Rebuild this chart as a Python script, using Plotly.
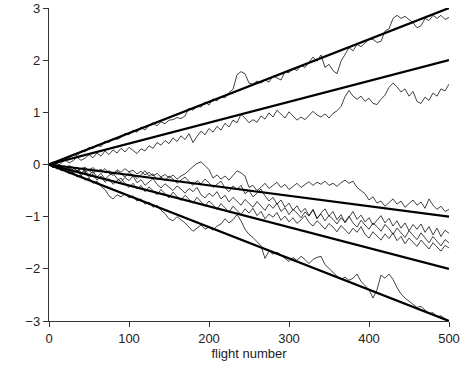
import plotly.graph_objects as go

flights = list(range(0, 501, 5))

# straight reference lines: endpoints
line_x = [0, 500]
line_ends = [3, 2, -1, -2, -3]

trace1 = [0, 0.05, 0.02, 0.10, 0.12, 0.13, 0.20, 0.17, 0.26, 0.24,
          0.33, 0.30, 0.38, 0.34, 0.45, 0.42, 0.50, 0.48, 0.52, 0.60,
          0.57, 0.66, 0.62, 0.72, 0.66, 0.75, 0.80, 0.74, 0.82, 0.78,
          0.85, 0.86, 0.90, 0.88, 0.93, 1.08, 1.04, 1.12, 1.10, 1.20,
          1.14, 1.26, 1.22, 1.30, 1.28, 1.38, 1.44, 1.72, 1.78, 1.74,
          1.56, 1.54, 1.60, 1.56, 1.62, 1.58, 1.70, 1.66, 1.62, 1.78,
          1.76, 1.84, 1.80, 1.90, 1.86, 1.96, 2.06, 1.98, 2.10, 1.86,
          1.92, 1.80, 1.74, 1.98, 2.12, 2.24, 2.18, 2.30, 2.26, 2.34,
          2.40, 2.40, 2.34, 2.36, 2.56, 2.60, 2.80, 2.86, 2.80, 2.84,
          2.78, 2.72, 2.62, 2.66, 2.80, 2.76, 2.86, 2.80, 2.86, 2.78,
          2.82]
trace2 = [0, 0.04, -0.03, 0.02, 0.09, 0.03, 0.07, 0.14, 0.08, 0.12,
          0.19, 0.13, 0.22, 0.16, 0.26, 0.19, 0.28, 0.22, 0.31, 0.24,
          0.33, 0.27, 0.21, 0.30, 0.26, 0.36, 0.31, 0.42, 0.37, 0.46,
          0.40, 0.51, 0.44, 0.55, 0.48, 0.59, 0.42, 0.54, 0.64, 0.57,
          0.69, 0.62, 0.73, 0.66, 0.79, 0.72, 0.85, 0.80, 0.96, 0.89,
          0.80, 0.86, 0.81, 0.93, 0.87, 0.99, 0.91, 1.04, 0.97, 0.89,
          1.01, 0.92, 0.85, 0.91, 0.86, 0.94, 1.02, 0.95, 0.91, 0.97,
          0.89, 0.98, 1.03, 1.11, 1.30, 1.42, 1.31, 1.25, 1.31, 1.21,
          1.27, 1.17, 1.15, 1.25, 1.33, 1.48, 1.56, 1.49, 1.39, 1.45,
          1.31, 1.40, 1.21, 1.17, 1.29, 1.23, 1.37, 1.31, 1.45, 1.41,
          1.54]
trace3 = [0, -0.04, 0.02, -0.06, -0.03, -0.09, -0.05, -0.12, -0.07, -0.14,
          -0.10, -0.06, -0.13, -0.09, -0.16, -0.12, -0.18, -0.10, -0.15, -0.08,
          -0.14, -0.11, -0.18, -0.13, -0.20, -0.15, -0.22, -0.17, -0.24, -0.19,
          -0.26, -0.20, -0.28, -0.22, -0.18, -0.10, -0.04, 0.02, 0.05, -0.02,
          -0.10, -0.26, -0.20, -0.28, -0.22, -0.30, -0.20, -0.12, -0.16, -0.22,
          -0.44, -0.40, -0.50, -0.44, -0.36, -0.46, -0.40, -0.34, -0.44, -0.38,
          -0.48, -0.42, -0.36, -0.44, -0.38, -0.33, -0.40, -0.34, -0.38, -0.32,
          -0.40, -0.36, -0.42, -0.35, -0.30, -0.36, -0.32, -0.44, -0.50, -0.56,
          -0.68, -0.62, -0.74, -0.70, -0.80, -0.72, -0.66, -0.76, -0.70, -0.82,
          -0.74, -0.68, -0.78, -0.72, -0.84, -0.66, -0.78, -0.86, -0.80, -0.90,
          -0.86]
trace4 = [0, -0.03, 0.03, -0.04, -0.09, -0.02, -0.06, -0.13, -0.08, -0.05,
          -0.12, -0.17, -0.10, -0.14, -0.08, -0.16, -0.21, -0.13, -0.18, -0.24,
          -0.15, -0.20, -0.27, -0.19, -0.12, -0.22, -0.18, -0.29, -0.24, -0.31,
          -0.22, -0.28, -0.36, -0.30, -0.24, -0.33, -0.40, -0.31, -0.37, -0.28,
          -0.35, -0.44, -0.38, -0.32, -0.45, -0.52, -0.41, -0.48, -0.40, -0.56,
          -0.50, -0.62, -0.55, -0.47, -0.60, -0.70, -0.63, -0.76, -0.68, -0.82,
          -0.74, -0.88, -0.79, -0.92, -0.84, -0.98, -0.86, -1.04, -0.93, -0.85,
          -0.99, -0.90, -1.06, -0.96, -1.12, -1.00, -0.90, -1.05, -0.97, -1.10,
          -1.02, -1.16, -1.06, -0.98, -1.12, -1.03, -1.18, -1.08, -1.22, -1.12,
          -1.27, -1.15, -1.24, -1.14, -1.30, -1.19, -1.35, -1.22, -1.38, -1.26,
          -1.32]
trace5 = [0, -0.06, -0.01, -0.10, -0.04, -0.14, -0.09, -0.05, -0.16, -0.11,
          -0.20, -0.13, -0.24, -0.17, -0.28, -0.21, -0.16, -0.27, -0.33, -0.25,
          -0.31, -0.22, -0.35, -0.29, -0.40, -0.34, -0.27, -0.38, -0.45, -0.37,
          -0.43, -0.50, -0.41, -0.47, -0.55, -0.46, -0.52, -0.44, -0.58, -0.64,
          -0.55, -0.61, -0.52, -0.66, -0.59, -0.72, -0.63, -0.70, -0.78, -0.67,
          -0.74, -0.82, -0.71, -0.79, -0.88, -0.76, -0.84, -0.74, -0.90, -0.83,
          -0.96, -0.86, -0.93, -1.02, -0.91, -0.99, -0.87, -1.03, -0.95, -1.08,
          -0.98, -1.05, -1.14, -1.02, -1.10, -0.99, -1.12, -1.20, -1.07, -1.16,
          -1.24, -1.12, -1.19, -1.28, -1.15, -1.23, -1.34, -1.22, -1.30, -1.40,
          -1.27, -1.36, -1.44, -1.31, -1.40, -1.50, -1.38, -1.46, -1.56, -1.44,
          -1.50]
trace6 = [0, -0.02, -0.09, -0.04, -0.13, -0.07, -0.17, -0.11, -0.21, -0.14,
          -0.25, -0.19, -0.30, -0.22, -0.34, -0.27, -0.38, -0.31, -0.26, -0.37,
          -0.44, -0.36, -0.47, -0.40, -0.52, -0.43, -0.50, -0.58, -0.48, -0.56,
          -0.64, -0.53, -0.61, -0.69, -0.59, -0.66, -0.74, -0.63, -0.71, -0.80,
          -0.70, -0.77, -0.86, -0.75, -0.83, -0.92, -0.80, -0.88, -0.96, -0.85,
          -0.93, -0.84, -0.98, -0.90, -1.04, -0.95, -1.01, -0.92, -1.07, -0.99,
          -1.10, -1.02, -1.13, -1.06, -0.98, -1.11, -1.18, -1.08, -1.15, -1.24,
          -1.13, -1.20, -1.29, -1.17, -1.25, -1.33, -1.22, -1.30, -1.19, -1.34,
          -1.41, -1.29, -1.37, -1.45, -1.33, -1.42, -1.31, -1.46, -1.38, -1.52,
          -1.41, -1.49, -1.57, -1.45, -1.54, -1.62, -1.50, -1.58, -1.66, -1.55,
          -1.60]
trace7 = [0, -0.06, -0.03, -0.12, -0.10, -0.18, -0.15, -0.24, -0.20, -0.30,
          -0.26, -0.36, -0.32, -0.42, -0.48, -0.60, -0.66, -0.58, -0.62, -0.56,
          -0.64, -0.60, -0.70, -0.66, -0.76, -0.72, -0.82, -0.78, -0.88, -0.94,
          -1.04, -1.08, -1.00, -1.06, -1.12, -1.20, -1.28, -1.22, -1.16, -1.24,
          -1.20, -1.26, -1.18, -1.14, -1.04, -1.12, -1.06, -0.96, -1.08, -1.24,
          -1.34, -1.40, -1.48, -1.56, -1.80, -1.66, -1.72, -1.68, -1.74, -1.80,
          -1.86, -1.78, -1.84, -1.76, -1.82, -1.90, -1.82, -1.78, -1.76, -1.92,
          -2.00, -2.08, -2.14, -2.20, -2.16, -2.22, -2.18, -2.10, -2.24, -2.32,
          -2.40, -2.56, -2.40, -2.12, -2.18, -2.10, -2.20, -2.36, -2.48, -2.56,
          -2.62, -2.68, -2.74, -2.72, -2.80, -2.86, -2.84, -2.92, -2.90, -2.96,
          -3.00]

noisy = [trace1, trace2, trace3, trace4, trace5, trace6, trace7]

fig = go.Figure()
for tr in noisy:
    fig.add_trace(go.Scatter(x=flights, y=tr, mode="lines",
                             line=dict(color="#111111", width=0.8),
                             showlegend=False, hoverinfo="skip",
                             cliponaxis=False))
for e in line_ends:
    fig.add_trace(go.Scatter(x=line_x, y=[0, e], mode="lines",
                             line=dict(color="#000000", width=2.2),
                             showlegend=False, hoverinfo="skip",
                             cliponaxis=False))

axis_font = dict(family="Liberation Sans, Arial, sans-serif", size=13, color="#222222")
fig.update_layout(
    width=474, height=390,
    margin=dict(l=49, r=25, t=8, b=69, autoexpand=False),
    paper_bgcolor="white", plot_bgcolor="white",
    font=axis_font,
)
fig.update_xaxes(range=[0, 500], tickvals=[0, 100, 200, 300, 400, 500],
                 showline=True, linecolor="#333333", linewidth=1.2,
                 ticks="outside", ticklen=5, tickcolor="#333333",
                 showgrid=False, zeroline=False, tickfont=axis_font,
                 automargin=False, ticklabeloverflow="allow",
                 title=dict(text="flight number", font=axis_font, standoff=4))
fig.update_yaxes(range=[-3, 3], tickvals=[-3, -2, -1, 0, 1, 2, 3],
                 showline=True, linecolor="#333333", linewidth=1.2,
                 ticks="outside", ticklen=5, tickcolor="#333333",
                 showgrid=False, zeroline=False, tickfont=axis_font,
                 automargin=False, ticklabeloverflow="allow")

fig.write_html("out.html",
               config={"displayModeBar": False, "staticPlot": True},
               post_script="document.body.style.margin='0';document.body.style.overflow='hidden';")
